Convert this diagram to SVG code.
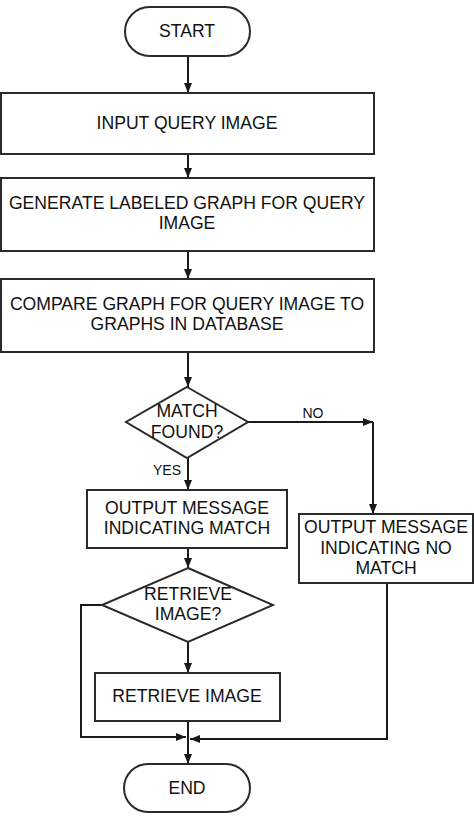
<svg xmlns="http://www.w3.org/2000/svg" width="474" height="822" viewBox="0 0 474 822">
<defs>
<marker id="ah" viewBox="0 0 10 10" refX="10" refY="5" markerWidth="10" markerHeight="10" markerUnits="userSpaceOnUse" orient="auto">
<path d="M0,1 L10,5 L0,9 Z" fill="#1a1a1a"/>
</marker>
<style>
.s{fill:#fff;stroke:#2a2a2a;stroke-width:2}
.t{font-family:"Liberation Sans",Arial,sans-serif;font-size:17.6px;fill:#111;text-anchor:middle}
.l{font-family:"Liberation Sans",Arial,sans-serif;font-size:14px;fill:#111;text-anchor:middle}
.c{fill:none;stroke:#1a1a1a;stroke-width:2}
</style>
</defs>
<rect width="474" height="822" fill="#fff"/>
<g id="connectors">
<line class="c" x1="188" y1="56" x2="188" y2="93" marker-end="url(#ah)"/>
<line class="c" x1="188" y1="154" x2="188" y2="178" marker-end="url(#ah)"/>
<line class="c" x1="188" y1="251" x2="188" y2="279" marker-end="url(#ah)"/>
<line class="c" x1="188" y1="352" x2="188" y2="387" marker-end="url(#ah)"/>
<polyline class="c" points="248,422 373,422"/>
<path d="M363,418 L373,422 L363,426 Z" fill="#1a1a1a"/>
<line class="c" x1="373" y1="422" x2="373" y2="514" marker-end="url(#ah)"/>
<line class="c" x1="188" y1="458" x2="188" y2="490" marker-end="url(#ah)"/>
<line class="c" x1="188" y1="548" x2="188" y2="568" marker-end="url(#ah)"/>
<line class="c" x1="188" y1="642" x2="188" y2="673" marker-end="url(#ah)"/>
<polyline class="c" points="102,605 81,605 81,737 186,737" marker-end="url(#ah)"/>
<polyline class="c" points="387,583 387,739 190,739" marker-end="url(#ah)"/>
<line class="c" x1="188" y1="721" x2="188" y2="764" marker-end="url(#ah)"/>
<text class="l" x="313" y="418">NO</text>
<text class="l" x="167" y="475">YES</text>
</g>
<g id="start">
<rect class="s" x="125" y="7" width="125" height="49" rx="24.5"/>
<text class="t" x="187" y="37">START</text>
</g>
<g id="input">
<rect class="s" x="1" y="93" width="373" height="61"/>
<text class="t" x="187" y="129">INPUT QUERY IMAGE</text>
</g>
<g id="generate">
<rect class="s" x="1" y="178" width="373" height="73"/>
<text class="t" x="187" y="209">GENERATE LABELED GRAPH FOR QUERY</text>
<text class="t" x="187" y="229">IMAGE</text>
</g>
<g id="compare">
<rect class="s" x="1" y="279" width="373" height="73"/>
<text class="t" x="187" y="310">COMPARE GRAPH FOR QUERY IMAGE TO</text>
<text class="t" x="187" y="330">GRAPHS IN DATABASE</text>
</g>
<g id="match">
<polygon class="s" points="187,387 248,422 187,458 126,422"/>
<text class="t" x="187" y="417">MATCH</text>
<text class="t" x="187" y="438">FOUND?</text>
</g>
<g id="outmatch">
<rect class="s" x="87" y="490" width="200" height="58"/>
<text class="t" x="187" y="514">OUTPUT MESSAGE</text>
<text class="t" x="187" y="534">INDICATING MATCH</text>
</g>
<g id="nomatch">
<rect class="s" x="299" y="514" width="174" height="69"/>
<text class="t" x="386" y="533">OUTPUT MESSAGE</text>
<text class="t" x="386" y="554">INDICATING NO</text>
<text class="t" x="386" y="574">MATCH</text>
</g>
<g id="retrieveq">
<polygon class="s" points="188,568 273,605 188,642 102,605"/>
<text class="t" x="188" y="600">RETRIEVE</text>
<text class="t" x="188" y="620">IMAGE?</text>
</g>
<g id="retrieve">
<rect class="s" x="95" y="673" width="185" height="48"/>
<text class="t" x="187" y="702">RETRIEVE IMAGE</text>
</g>
<g id="end">
<rect class="s" x="124" y="764" width="126" height="48" rx="24"/>
<text class="t" x="187" y="794">END</text>
</g>
</svg>
